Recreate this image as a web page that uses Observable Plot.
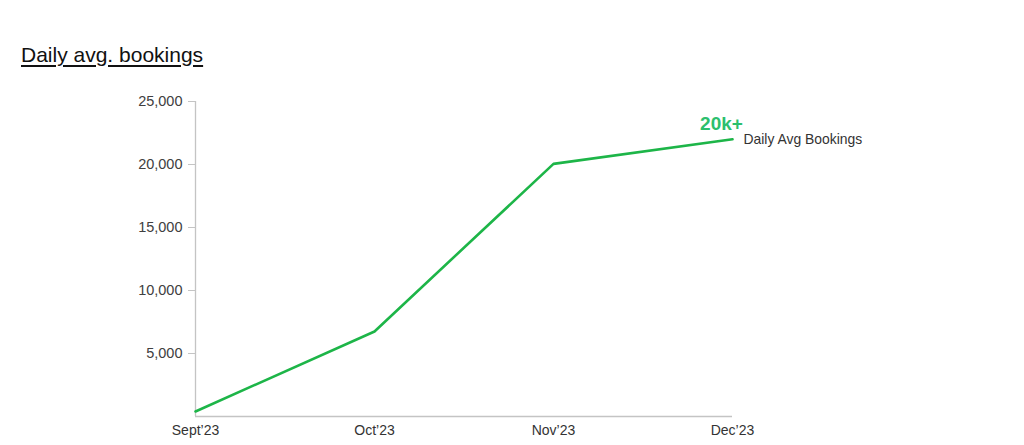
<!DOCTYPE html>
<html>
<head>
<meta charset="utf-8">
<script src="https://cdn.jsdelivr.net/npm/d3@7"></script>
<script src="https://cdn.jsdelivr.net/npm/@observablehq/plot@0.6"></script>
<style>
  html, body { margin: 0; padding: 0; background: #fff; }
  body { width: 1024px; height: 445px; overflow: hidden; font-family: "Liberation Sans", Arial, sans-serif; }
  #title { height: 80px; box-sizing: border-box; padding: 43px 0 0 21px; font-size: 21px; color: #111; line-height: 24px; }
  #title span { text-decoration: underline; text-underline-offset: 3px; text-decoration-thickness: 1.5px; }
  svg { display: block; }
</style>
</head>
<body>
<div id="title"><span>Daily avg. bookings</span></div>
<div id="chart"></div>
<script>
const months = ["Sept’23", "Oct’23", "Nov’23", "Dec’23"];
const bookings = [400, 6750, 20050, 22000];
const yTicks = [5000, 10000, 15000, 20000, 25000];
const seriesName = "Daily Avg Bookings";
const callout = "20k+";

const data = months.map((m, i) => ({month: m, value: bookings[i]}));
const last = [data[data.length - 1]];
const axisColor = "#c4c4c4";

const chart = Plot.plot({
  width: 1024,
  height: 365,
  marginTop: 21,
  marginBottom: 29,
  marginLeft: 195,
  marginRight: 292,
  style: {fontFamily: "'Liberation Sans', Arial, sans-serif", fontSize: "14px", color: "#404040", background: "#fff"},
  x: {type: "point", domain: months, padding: 0, label: null},
  y: {domain: [0, 25000], label: null},
  marks: [
    Plot.axisY({ticks: yTicks, tickFormat: d3.format(","), tickSize: 7, tickPadding: 6, stroke: axisColor, fontSize: 14.5, fill: "#404040"}),
    Plot.axisX({tickSize: 0, tickPadding: 9, fontSize: 14, fill: "#333"}),
    Plot.ruleX([months[0]], {y1: 0, y2: 25000, stroke: axisColor, strokeWidth: 1.3}),
    Plot.ruleY([0], {stroke: axisColor, strokeWidth: 1.3}),
    Plot.line(data, {x: "month", y: "value", stroke: "#1db548", strokeWidth: 2.6}),
    Plot.text(last, {x: "month", y: "value", text: () => seriesName, textAnchor: "start", dx: 11, dy: 0, fontSize: 13.9, fill: "#333"}),
    Plot.text(last, {x: "month", y: "value", text: () => callout, textAnchor: "middle", dx: -11, dy: -15, fontSize: 19, fontWeight: "bold", fill: "#2cbf6e"})
  ]
});
document.getElementById("chart").appendChild(chart);
</script>
</body>
</html>
